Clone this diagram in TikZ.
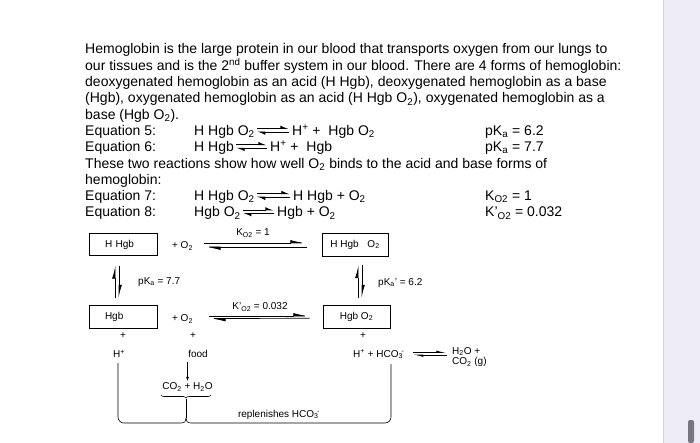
\documentclass[tikz,border=0pt]{standalone}
\usepackage{fontspec}
\setmainfont{Liberation Sans}
\usetikzlibrary{arrows.meta,decorations.pathreplacing}
\definecolor{lav}{RGB}{238,236,246}
\definecolor{sepgray}{RGB}{214,212,222}
\definecolor{thumbgray}{RGB}{120,118,128}
\begin{document}
\begin{tikzpicture}[x=1pt,y=-1pt,
  txt/.style={font=\fontsize{14}{16}\selectfont, anchor=base west, inner sep=0pt},
  sm/.style={font=\fontsize{10}{11}\selectfont, inner sep=0pt},
  leftbox/.style={draw, line width=0.6pt, font=\fontsize{10}{11}\selectfont, minimum height=22pt, text width=36pt, inner xsep=16pt, inner ysep=0pt, align=left},
  rightbox/.style={draw, line width=0.6pt, font=\fontsize{10}{11}\selectfont, minimum height=23pt, minimum width=66pt, inner sep=0pt},
  harp/.style={line width=0.9pt, -{Latex[harpoon,length=7pt,width=6pt]}},
  bharp/.style={line width=0.7pt, -{Latex[harpoon,length=14pt,width=6pt]}},
  vharp/.style={line width=0.7pt, -{Latex[harpoon,length=11pt,width=6pt]}},
  conn/.style={line width=0.6pt}
]
\useasboundingbox (0,0) rectangle (700,443);
\fill[white] (0,0) rectangle (700,443);
\fill[lav] (663,0) rectangle (700,443);
\draw[sepgray, line width=1pt] (663.5,0) -- (663.5,443);
\fill[thumbgray, rounded corners=2pt] (688,420) rectangle (694,443);

% ---- paragraph ----
\node[txt] (l1) at (85,54) {Hemoglobin is the large protein in our blood that transports oxygen from our lungs to};
\node[txt] (l2) at (85,70.3) {our tissues and is the 2\textsuperscript{nd} buffer system in our blood. There are 4 forms of hemoglobin:};
\node[txt] (l3) at (85,86.6) {deoxygenated hemoglobin as an acid (H Hgb), deoxygenated hemoglobin as a base};
\node[txt] (l4) at (85,102.9) {(Hgb), oxygenated hemoglobin as an acid (H Hgb O\textsubscript{2}), oxygenated hemoglobin as a};
\node[txt] (l5) at (85,119.2) {base (Hgb O\textsubscript{2}).};

% Equation 5
\node[txt] (e5) at (85,135.5) {Equation 5:};
\node[txt] (e5a) at (194,135.5) {H Hgb O\textsubscript{2}};
\node[txt] (e5b) at (292,135.5) {H\textsuperscript{+} +\hspace{4pt} Hgb O\textsubscript{2}};
\node[txt] (e5k) at (485,135.5) {pK\textsubscript{a} = 6.2};
% Equation 6
\node[txt] (e6) at (85,151.8) {Equation 6:};
\node[txt] (e6a) at (194,151.8) {H Hgb};
\node[txt] (e6b) at (270,151.8) {H\textsuperscript{+} +\hspace{4pt} Hgb};
\node[txt] (e6k) at (485,151.8) {pK\textsubscript{a} = 7.7};

\node[txt] (l6) at (85,168.1) {These two reactions show how well O\textsubscript{2} binds to the acid and base forms of};
\node[txt] (l7) at (85,184.4) {hemoglobin:};

% Equation 7
\node[txt] (e7) at (85,200.7) {Equation 7:};
\node[txt] (e7a) at (194,200.7) {H Hgb O\textsubscript{2}};
\node[txt] (e7b) at (293,200.7) {H Hgb + O\textsubscript{2}};
\node[txt] (e7k) at (485,200.7) {K\textsubscript{O2} = 1};
% Equation 8
\node[txt] (e8) at (85,217) {Equation 8:};
\node[txt] (e8a) at (194,217) {Hgb O\textsubscript{2}};
\node[txt] (e8b) at (277,217) {Hgb + O\textsubscript{2}};
\node[txt] (e8k) at (485,217) {K'\textsubscript{O2} = 0.032};

\foreach \a/\b in {e5a/e5b,e6a/e6b,e7a/e7b,e8a/e8b}{
  \draw[harp] ([xshift=2pt,yshift=7pt]\a.base east) -- ([xshift=-3pt,yshift=7pt]\b.base west);
  \draw[harp] ([xshift=-3pt,yshift=3.5pt]\b.base west) -- ([xshift=2pt,yshift=3.5pt]\a.base east);
}

% ---- diagram ----
\node[leftbox] (hhgb) at (123,244.5) {H Hgb};
\node[leftbox, minimum height=23pt] (hgb) at (123,316.5) {Hgb};
\node[rightbox] (hhgbo) at (355,244.5) {H Hgb\hspace{6pt} O\textsubscript{2}};
\node[rightbox, minimum width=67pt] (hgbo) at (356.5,316.5) {Hgb O\textsubscript{2}};

\node[sm] (oa) at (182.5,246) {+ O\textsubscript{2}};
\node[sm] (ob) at (182.5,319) {+ O\textsubscript{2}};

\draw[bharp] ([xshift=11pt,yshift=3pt]oa.east) -- ([xshift=-15pt,yshift=1.5pt]hhgbo.west);
\draw[bharp] ([xshift=-15pt,yshift=-2.5pt]hhgbo.west) -- ([xshift=11pt,yshift=-1pt]oa.east);
\node[sm] (k1) at (253,233) {K\textsubscript{O2} = 1};

\draw[bharp] ([xshift=16pt,yshift=3pt]ob.east) -- ([xshift=-13pt,yshift=0.5pt]hgbo.west);
\draw[bharp] ([xshift=-13pt,yshift=-1.8pt]hgbo.west) -- ([xshift=16pt,yshift=0.5pt]ob.east);
\node[sm] (k2) at (260,307) {K'\textsubscript{O2} = 0.032};

\draw[vharp] ([xshift=-8pt,yshift=7pt]hgb.north) -- ([xshift=-8pt,yshift=-10pt]hhgb.south);
\draw[vharp] ([xshift=-4pt,yshift=-10pt]hhgb.south) -- ([xshift=-4pt,yshift=7pt]hgb.north);
\node[sm, anchor=west] (pk1) at (138,282) {pK\textsubscript{a} = 7.7};

\draw[vharp] ([xshift=1.5pt,yshift=7pt]hgbo.north) -- ([xshift=3pt,yshift=-9pt]hhgbo.south);
\draw[vharp] ([xshift=7pt,yshift=-9pt]hhgbo.south) -- ([xshift=5.5pt,yshift=7pt]hgbo.north);
\node[sm, anchor=west] (pk2) at (378,283) {pK\textsubscript{a}' = 6.2};

\node[sm] (p1) at (123,336) {+};
\node[sm] (p2) at (193,336) {+};
\node[sm] (p3) at (363,336) {+};

\node[sm] (hp) at (119,354) {H\textsuperscript{+}};
\node[sm] (food) at (198,354) {food};
\node[sm, anchor=west] (hco) at (353,354) {H\textsuperscript{+} + HCO\textsubscript{3}\kern-1.5pt\textsuperscript{-}};
\node[sm, anchor=west] (h2o) at (452,351.5) {H\textsubscript{2}O +};
\node[sm, anchor=west] (co2g) at (452,362) {CO\textsubscript{2} (g)};

\draw[line width=0.9pt, -{Latex[harpoon,length=8pt,width=4pt]}] ([xshift=8pt,yshift=1.5pt]hco.east) -- ([xshift=-5pt,yshift=-1pt]h2o.west);
\draw[line width=0.9pt, -{Latex[harpoon,length=8pt,width=4pt]}] ([xshift=-5pt,yshift=-3.5pt]h2o.west) -- ([xshift=8pt,yshift=-1pt]hco.east);

\node[sm] (co2) at (187.5,387) {CO\textsubscript{2} + H\textsubscript{2}O};
\draw[conn, -{Stealth[length=4pt,width=3pt]}] ([yshift=-4pt]co2.north |- food.south) -- ([yshift=2pt]co2.north);

\draw[conn, decorate, decoration={brace, mirror, amplitude=3pt}] (161,395) -- (211,395);
\coordinate (cusp) at (186,418);
\draw[conn] (186,399) -- (cusp);
\draw[conn] (118,363) -- (118,417) to[out=-90,in=180] (124,423) -- (181,423)
  .. controls (185,423) and (186,421) .. (cusp)
  .. controls (186,421) and (187,423) .. (191,423) -- (385,423)
  to[out=0,in=-90] (391,417) -- (391,364);
\node[sm] (rep) at (279,414.5) {replenishes HCO\textsubscript{3}\kern-1.5pt\textsuperscript{-}};
\end{tikzpicture}
\end{document}
